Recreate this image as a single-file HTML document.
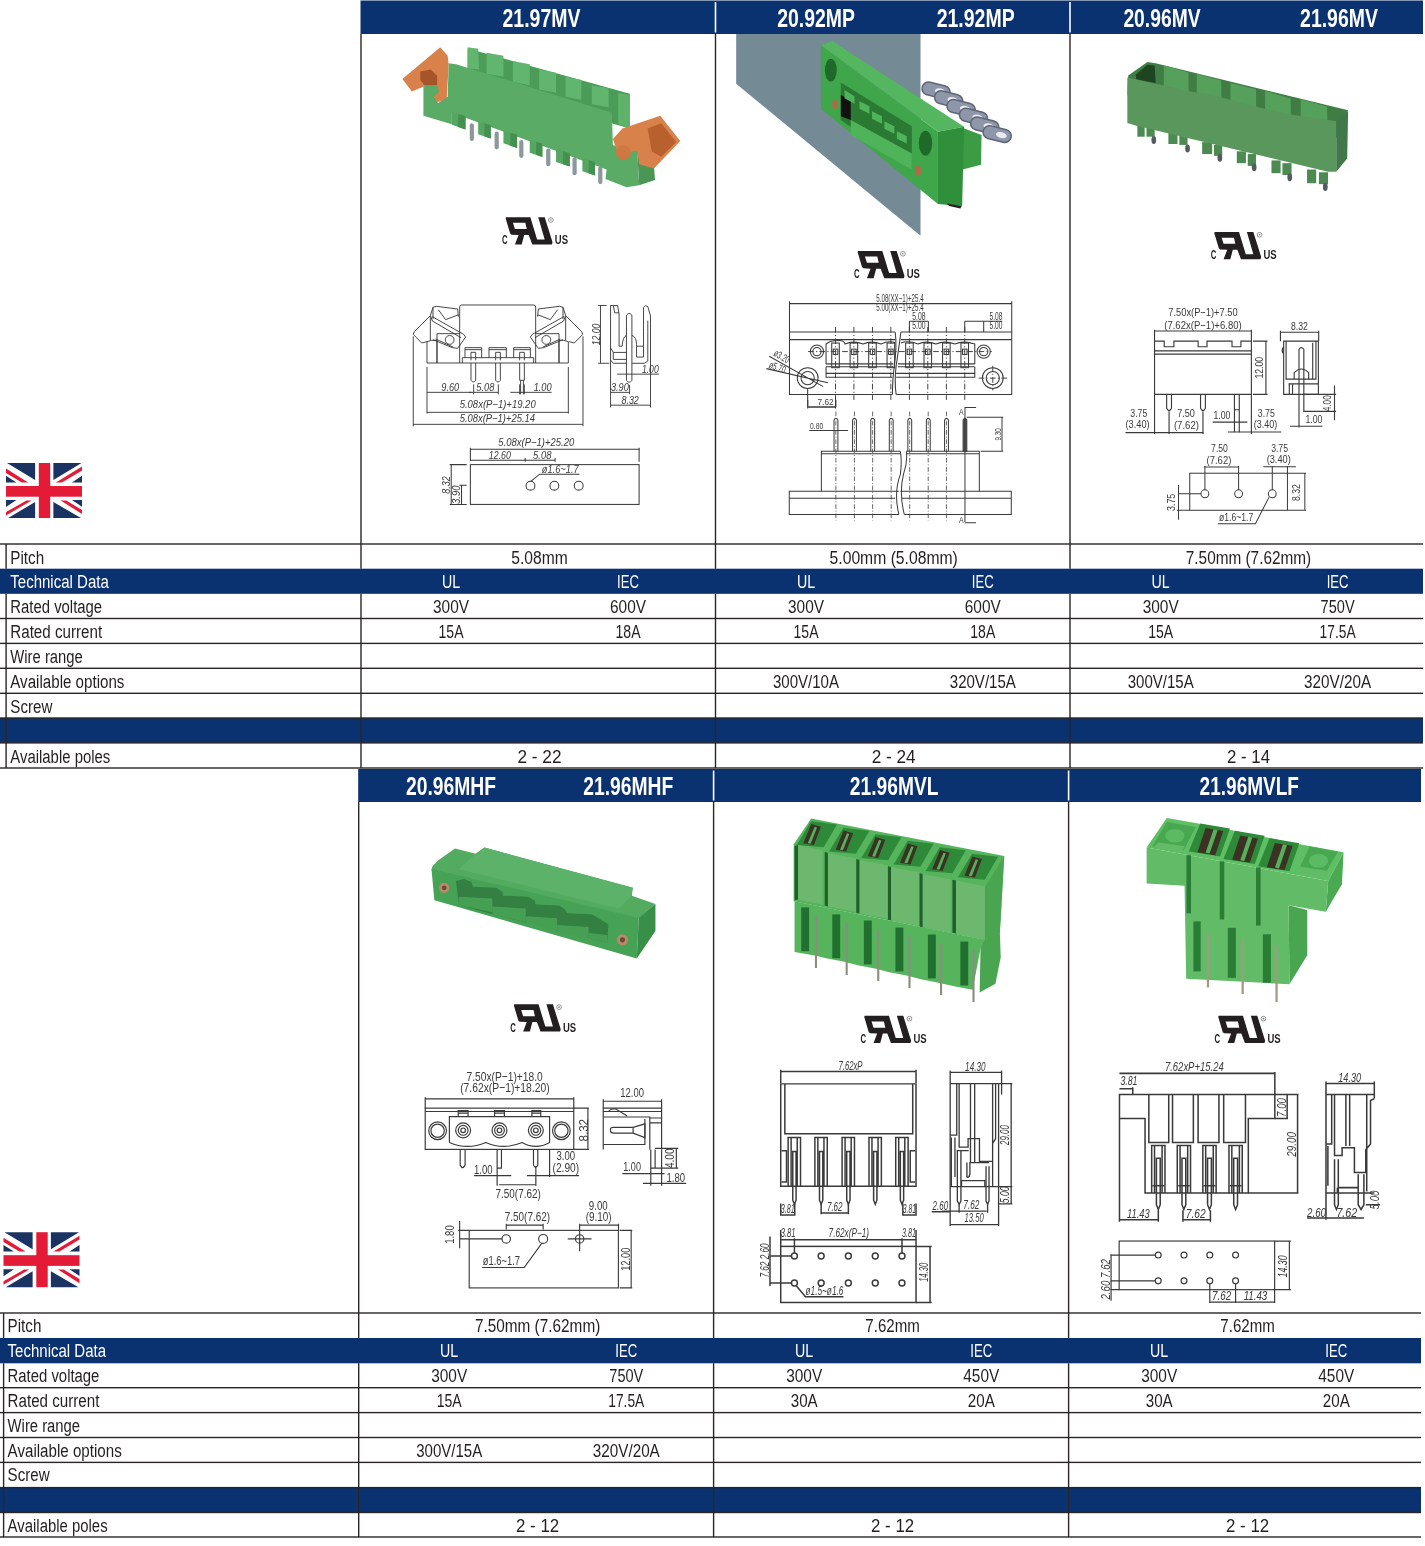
<!DOCTYPE html>
<html><head><meta charset="utf-8"><style>
html,body{margin:0;padding:0;background:#fff;width:1425px;height:1546px;overflow:hidden}
svg{position:absolute;left:0;top:0;display:block;will-change:transform}
text{font-family:"Liberation Sans",sans-serif}
</style></head><body>
<svg width="1425" height="1546" viewBox="0 0 1425 1546">
<defs>
<g id="ul">
<path d="M195,40 L630,40 L750,435 L885,435 L770,40 L885,40 L1025,485 L1012,525 L665,525 L600,355 L520,355 L475,525 L355,525 L420,355 L295,350 L270,330 L190,62 Z M320,140 L540,140 L565,250 L355,250 Z" fill="#231f20" fill-rule="evenodd"/>
<text x="125" y="525" font-size="232" font-weight="bold" fill="#231f20" textLength="100" lengthAdjust="spacingAndGlyphs">C</text>
<text x="1065" y="525" font-size="232" font-weight="bold" fill="#231f20" textLength="235" lengthAdjust="spacingAndGlyphs">US</text>
<circle cx="995" cy="90" r="42" fill="none" stroke="#777" stroke-width="14"/>
<circle cx="995" cy="90" r="14" fill="#777"/>
</g>
</defs>
<use href="#ul" transform="translate(495,215) scale(0.056148)"/>
<use href="#ul" transform="translate(846.97,248.7) scale(0.056148)"/>
<use href="#ul" transform="translate(1203.65,229.77) scale(0.056148)"/>
<g transform="translate(395,40) scale(0.210526)">
<!-- back fins body -->
<polygon points="345,40 1115,255 1115,420 345,200" fill="#4a9c56"/>
<polygon points="345,35 395,42 400,140 345,135" fill="#62b56e"/>
<polygon points="435,60 515,75 515,175 435,160" fill="#62b56e"/>
<polygon points="560,100 640,115 640,215 560,200" fill="#62b56e"/>
<polygon points="685,140 765,155 765,250 685,235" fill="#62b56e"/>
<polygon points="810,175 885,190 885,285 810,270" fill="#62b56e"/>
<polygon points="935,215 1015,230 1015,320 935,305" fill="#62b56e"/>
<polygon points="1060,250 1115,262 1115,420 1060,400" fill="#5fb26a"/>
<!-- left orange flange -->
<polygon points="35,185 215,35 250,75 255,115 245,290 190,295 180,245 140,220 80,245" fill="#d9814b"/>
<polygon points="120,150 170,140 200,170 200,215 140,215 120,190" fill="#a8542a"/>
<!-- pins -->
<g fill="#8d979c">
<rect x="355" y="395" width="20" height="85" rx="10"/>
<rect x="473" y="435" width="20" height="85" rx="10"/>
<rect x="590" y="475" width="20" height="85" rx="10"/>
<rect x="718" y="515" width="20" height="85" rx="10"/>
<rect x="843" y="558" width="20" height="85" rx="10"/>
<rect x="965" y="600" width="20" height="85" rx="10"/>
</g>
<!-- main front face -->
<polygon points="255,110 290,115 1030,345 1035,500 1150,520 1160,690 1100,700 1000,660 1005,615 270,345 270,400 135,360 135,220 200,215 210,245 185,270 205,300 250,270" fill="#59ab66"/>
<polygon points="1150,520 1230,600 1235,665 1160,690" fill="#4a9655"/>
<!-- teeth -->
<g fill="#55a662">
<polygon points="270,340 335,362 335,425 270,403"/>
<polygon points="395,385 455,405 455,468 395,448"/>
<polygon points="515,428 580,450 580,513 515,491"/>
<polygon points="640,472 700,493 700,556 640,535"/>
<polygon points="765,516 830,538 830,601 765,579"/>
<polygon points="890,560 950,581 950,644 890,623"/>
</g>
<g fill="#44914f">
<polygon points="300,352 335,362 335,425 300,413"/>
<polygon points="425,396 455,405 455,468 425,458"/>
<polygon points="548,440 580,450 580,513 548,502"/>
<polygon points="670,483 700,493 700,556 670,545"/>
<polygon points="798,527 830,538 830,601 798,590"/>
<polygon points="920,570 950,581 950,644 920,633"/>
</g>

<!-- right orange flange -->
<polygon points="1035,470 1080,420 1260,360 1355,480 1230,610 1160,590 1150,525 1060,545" fill="#d9814b"/>
<polygon points="1200,420 1265,395 1335,485 1265,555 1220,530" fill="#b8602e"/>
<circle cx="1085" cy="535" r="35" fill="#d07844"/>
</g>
<g transform="translate(405,295) scale(0.133333)" fill="none" stroke="#3a3a3a" stroke-width="7" stroke-linejoin="round">
<path d="M410,510 V90 Q410,75 425,75 H965 Q980,75 980,90 V510"/>
<path d="M165,510 H1225"/>
<path d="M165,510 V350 L200,340 H240 V510 M240,290 V510 M240,290 H410"/>
<path d="M1225,510 V350 L1190,340 H1155 V510 M1155,290 V510 M1155,290 H980"/>
<!-- pin housings -->
<path d="M430,510 V470 H965 V510 M450,470 V395 H575 V470 M630,470 V395 H760 V470 M815,470 V395 H940 V470"/>
<path d="M450,410 H575 M630,410 H760 M815,410 H940"/>
<path d="M495,490 V430 H530 V490 M680,490 V430 H715 V490 M860,490 V430 H895 V490"/>
<path d="M495,510 V640 Q512,665 530,640 V510 M680,510 V640 Q697,665 715,640 V510 M860,510 V640 H895 V510 M867,640 V745 M888,640 V745"/>
<!-- left latch -->
<g id="latchL">
<path d="M165,350 L125,360 L62,295 L70,275 L190,155 L210,92 L235,85 L395,105 L400,160 L395,150"/>
<path d="M250,110 L305,185 L395,150"/>
<path d="M195,165 L205,195 L420,320 M200,160 L440,295 L455,315 L395,400 L355,395 L210,335 M230,330 L360,390"/>
<circle cx="335" cy="337" r="33"/>
<path d="M190,155 V340 M210,92 V180"/>
</g>
<use href="#latchL" transform="translate(1395,0) scale(-1,1)"/>
<!-- dimension lines -->
<path d="M165,540 V890 M1225,540 V890 M62,310 V985 M1335,310 V985 M515,670 V745 M700,670 V745 M860,670 V745 M895,670 V745"/>
<path d="M165,730 H500 M480,730 H700 M790,730 H1100 M165,880 H1225 M60,970 H1335"/>
</g>
<g transform="translate(405,295) scale(0.133333)" fill="#3a3a3a" font-size="78" font-style="italic">
<text x="272" y="720" textLength="135" lengthAdjust="spacingAndGlyphs">9.60</text>
<text x="535" y="720" textLength="135" lengthAdjust="spacingAndGlyphs">5.08</text>
<text x="965" y="720" textLength="135" lengthAdjust="spacingAndGlyphs">1.00</text>
<text x="410" y="845" textLength="570" lengthAdjust="spacingAndGlyphs">5.08x(P−1)+19.20</text>
<text x="410" y="955" textLength="565" lengthAdjust="spacingAndGlyphs">5.08x(P−1)+25.14</text>
</g>
<g transform="translate(590,295) scale(0.07758)" fill="none" stroke="#3a3a3a" stroke-width="12" stroke-linejoin="round">
<path d="M265,1450 V135 H355 L375,240 V660 H415 Q420,540 470,520"/>
<path d="M300,140 L320,230 H375"/>
<path d="M470,1100 V260 Q505,215 540,260 V1100 Q505,1150 470,1100 Z"/>
<path d="M540,520 Q600,540 600,640 V660 H690 V160 Q715,120 745,150 L780,270 V1450"/>
<path d="M745,330 V470 M600,660 V800 H690 V660"/>
<path d="M265,680 L300,740 H470 M300,740 V830 H470 M265,840 L300,880 H470 M540,880 H700 L745,850 V470"/>
<path d="M135,135 V880 M105,135 H215 M105,880 H250"/>
<path d="M350,1020 H890 M260,1255 H510 M260,1420 H780 M510,1160 V1280"/>
</g>
<g transform="translate(590,295) scale(0.07758)" fill="#3a3a3a" font-size="140" font-style="italic">
<text x="670" y="1000" textLength="215" lengthAdjust="spacingAndGlyphs">1.00</text>
<text x="270" y="1238" textLength="230" lengthAdjust="spacingAndGlyphs">3.90</text>
<text x="405" y="1400" textLength="225" lengthAdjust="spacingAndGlyphs">8.32</text>
<text transform="translate(128,648) rotate(-90)" x="0" y="0" textLength="280" lengthAdjust="spacingAndGlyphs">12.00</text>
</g>
<g transform="translate(435,430) scale(0.14737)" fill="none" stroke="#3a3a3a" stroke-width="7">
<rect x="240" y="235" width="1145" height="270"/>
<path d="M240,130 H1390 M240,120 V210 M1385,120 V215 M240,205 H815 M612,190 V215 M815,190 V215"/>
<path d="M110,235 V505 M100,235 H215 M100,505 H215 M180,375 V505 M165,375 H215"/>
<circle cx="648" cy="378" r="30"/><circle cx="810" cy="378" r="30"/><circle cx="975" cy="378" r="30"/>
<path d="M648,350 L710,300 H980"/>
</g>
<g transform="translate(435,430) scale(0.14737)" fill="#3a3a3a" font-size="74" font-style="italic">
<text x="430" y="110" textLength="515" lengthAdjust="spacingAndGlyphs">5.08x(P−1)+25.20</text>
<text x="365" y="195" textLength="150" lengthAdjust="spacingAndGlyphs">12.60</text>
<text x="665" y="195" textLength="125" lengthAdjust="spacingAndGlyphs">5.08</text>
<text x="725" y="290" textLength="250" lengthAdjust="spacingAndGlyphs">ø1.6~1.7</text>
<text transform="translate(100,432) rotate(-90)" textLength="118" lengthAdjust="spacingAndGlyphs">8.32</text>
<text transform="translate(172,502) rotate(-90)" textLength="125" lengthAdjust="spacingAndGlyphs">3.90</text>
</g>
<g transform="translate(715,34) scale(0.249120)">
<polygon points="85,0 825,0 825,810 85,200" fill="#748a95"/>
<!-- pins -->
<g transform="rotate(14 885 227)"><rect x="830" y="200" width="115" height="52" rx="26" fill="#8e96aa" stroke="#5d6676" stroke-width="6"/><ellipse cx="905" cy="226" rx="22" ry="12" fill="#e8eaf0"/></g>
<g transform="rotate(14 935 262)"><rect x="880" y="235" width="115" height="52" rx="26" fill="#8e96aa" stroke="#5d6676" stroke-width="6"/><ellipse cx="955" cy="261" rx="22" ry="12" fill="#e8eaf0"/></g>
<g transform="rotate(14 985 297)"><rect x="930" y="270" width="115" height="52" rx="26" fill="#8e96aa" stroke="#5d6676" stroke-width="6"/><ellipse cx="1005" cy="296" rx="22" ry="12" fill="#e8eaf0"/></g>
<g transform="rotate(14 1035 332)"><rect x="980" y="305" width="115" height="52" rx="26" fill="#8e96aa" stroke="#5d6676" stroke-width="6"/><ellipse cx="1055" cy="331" rx="22" ry="12" fill="#e8eaf0"/></g>
<g transform="rotate(14 1080 367)"><rect x="1025" y="340" width="115" height="52" rx="26" fill="#8e96aa" stroke="#5d6676" stroke-width="6"/><ellipse cx="1100" cy="366" rx="22" ry="12" fill="#e8eaf0"/></g>
<g transform="rotate(14 1130 402)"><rect x="1075" y="375" width="115" height="52" rx="26" fill="#8e96aa" stroke="#5d6676" stroke-width="6"/><ellipse cx="1150" cy="401" rx="22" ry="12" fill="#e8eaf0"/></g>
<polygon points="990,375 1070,405 1068,525 990,545" fill="#3b9c45"/>
<polygon points="425,45 470,28 1000,372 895,392" fill="#54b65e"/>
<polygon points="425,45 895,392 895,682 425,300" fill="#40a64b"/>
<polygon points="895,392 1000,372 992,690 895,682" fill="#2f8f3b"/>
<polygon points="930,680 990,690 985,700 940,690" fill="#222"/>
<polygon points="505,195 790,370 790,545 505,345" fill="#2a7a33"/>
<polygon points="505,245 545,265 545,345 505,330" fill="#111"/>
<g fill="#4fb35a">
<polygon points="545,345 790,480 790,545 545,405"/>
<polygon points="520,225 560,250 560,280 520,258"/>
<polygon points="580,270 620,290 620,320 580,300"/>
<polygon points="630,310 670,330 670,360 630,340"/>
<polygon points="680,350 720,370 720,400 680,380"/>
<polygon points="730,390 770,410 770,440 730,420"/>
</g>
<ellipse cx="465" cy="145" rx="24" ry="46" fill="#1f6a28"/>
<ellipse cx="845" cy="438" rx="27" ry="50" fill="#1f6a28"/>
<ellipse cx="482" cy="283" rx="11" ry="18" fill="#b4684a"/>
<ellipse cx="815" cy="548" rx="12" ry="20" fill="#b4684a"/>
</g>
<g transform="translate(755,290) scale(0.18947)" fill="none" stroke="#3a3a3a" stroke-width="5.5">
<path d="M740,222 H182 V552 H725 M770,222 H1355 V552 H745"/>
<path d="M182,262 H740 M770,262 H1355"/>
<path d="M740,222 Q750,300 735,400 Q725,480 725,552 M770,222 Q760,300 745,400 Q735,480 745,552"/>
<path d="M375,390 V285 Q400,265 425,268 Q470,260 475,285 Q520,265 570,285 Q615,265 665,285 Q710,265 740,280 M770,280 Q810,265 860,285 Q905,265 955,285 Q1000,265 1055,285 Q1100,265 1160,285 V390"/>
<path d="M375,390 H730 M755,390 H1160 M375,405 H730 M755,405 H1160 M375,405 V460 H725 M745,460 H1160 V405 M375,440 H728 M745,440 H1160"/>
<g id="c2pin"><rect x="405" y="280" width="40" height="130"/><rect x="413" y="312" width="24" height="28"/></g>
<use href="#c2pin" transform="translate(97,0)"/><use href="#c2pin" transform="translate(195,0)"/><use href="#c2pin" transform="translate(292,0)"/>
<use href="#c2pin" transform="translate(390,0)"/><use href="#c2pin" transform="translate(487,0)"/><use href="#c2pin" transform="translate(585,0)"/><use href="#c2pin" transform="translate(682,0)"/>
<circle cx="327" cy="325" r="35"/><circle cx="327" cy="325" r="22"/>
<circle cx="1207" cy="325" r="35"/><circle cx="1207" cy="325" r="22"/>
<circle cx="278" cy="465" r="55"/><circle cx="278" cy="465" r="35"/>
<circle cx="1255" cy="465" r="55"/><circle cx="1255" cy="465" r="35"/>
<path d="M425,195 V580 M522,195 V580 M620,195 V580 M717,195 V580 M815,195 V580 M912,195 V580 M1010,195 V580 M1107,195 V580 M280,325 H1250 M1180,465 H1330 M1255,400 V530" stroke-dasharray="30,12,6,12" stroke-width="5"/>
<path d="M182,72 H1355 M182,60 V222 M1355,60 V222"/>
<path d="M815,165 H915 M815,165 V222 M915,165 V222 M1107,165 H1305 M1107,165 V222 M1207,165 V222"/>
<path d="M278,520 V625 M425,560 V625 M278,618 H425"/>
<path d="M75,350 L360,510 M60,415 L385,490"/>
</g>
<g transform="translate(755,290) scale(0.18947)" fill="#3a3a3a" font-size="55">
<text x="640" y="62" textLength="250" lengthAdjust="spacingAndGlyphs">5.08(XX−1)+25.4</text>
<text x="640" y="110" textLength="250" lengthAdjust="spacingAndGlyphs">5.00(XX−1)+25.4</text>
<text x="830" y="160" textLength="70" lengthAdjust="spacingAndGlyphs">5.08</text>
<text x="830" y="207" textLength="70" lengthAdjust="spacingAndGlyphs">5.00</text>
<text x="1238" y="160" textLength="68" lengthAdjust="spacingAndGlyphs">5.08</text>
<text x="1238" y="207" textLength="68" lengthAdjust="spacingAndGlyphs">5.00</text>
<text x="330" y="605" font-size="50" textLength="85" lengthAdjust="spacingAndGlyphs">7.62</text>
<text transform="translate(95,345) rotate(30)" textLength="85" lengthAdjust="spacingAndGlyphs">ø3.20</text>
<text transform="translate(70,410) rotate(20)" textLength="90" lengthAdjust="spacingAndGlyphs">ø5.70</text>
</g>
<g transform="translate(780,400) scale(0.15439)" fill="none" stroke="#3a3a3a" stroke-width="6.5">
<path d="M770,591 H60 V741 H770 M805,741 H1498 V591 H780 M60,637 H745 M790,637 H1498"/>
<path d="M268,591 V332 H780 M818,332 H1291 V591 M268,348 H780 M818,348 H1291"/>
<path d="M780,332 Q790,400 780,480 Q735,600 770,741 M818,332 Q828,400 800,480 Q770,600 805,741"/>
<g id="c2pn"><path d="M350,332 V130 Q362,105 375,130 V332"/></g>
<use href="#c2pn" transform="translate(120,0)"/><use href="#c2pn" transform="translate(238,0)"/><use href="#c2pn" transform="translate(358,0)"/>
<use href="#c2pn" transform="translate(478,0)"/><use href="#c2pn" transform="translate(598,0)"/><use href="#c2pn" transform="translate(716,0)"/>
<path d="M1186,332 V130 Q1198,105 1210,130 V332 Z" fill="#555"/>
<path d="M362,75 V780 M482,75 V780 M600,75 V780 M720,75 V780 M840,75 V780 M960,75 V780 M1078,75 V780" stroke-dasharray="30,12,6,12" stroke-width="5"/>
<path d="M1198,45 V790 M1198,48 H1270 M1198,795 H1270 M1209,112 H1446 M1300,332 H1446 M1438,112 V332"/>
<path d="M190,197 H440 M180,0 V45 M362,0 V45 M180,45 H362"/>
</g>
<g transform="translate(780,400) scale(0.15439)" fill="#3a3a3a" font-size="62">
<text x="195" y="185" textLength="85" lengthAdjust="spacingAndGlyphs">0.80</text>
<text x="1160" y="95" textLength="30" lengthAdjust="spacingAndGlyphs">A</text>
<text x="1160" y="795" textLength="30" lengthAdjust="spacingAndGlyphs">A</text>
<text transform="translate(1430,262) rotate(-90)" textLength="80" lengthAdjust="spacingAndGlyphs">9.30</text>
</g>
<g transform="translate(1110,40) scale(0.18246)">
<polygon points="100,195 205,120 250,128 1305,385 1240,540 95,300" fill="#3f7d45"/>
<polygon points="140,190 205,135 245,140 250,235 145,215" fill="#1d4520"/>
<g fill="#55a05a">
<polygon points="295,145 300,140 430,178 432,400 295,360"/>
<polygon points="475,185 610,222 612,440 475,400"/>
<polygon points="660,235 800,270 802,480 660,440"/>
<polygon points="850,280 990,320 992,520 850,480"/>
<polygon points="1045,325 1190,365 1192,560 1045,520"/>
</g>
<g fill="#4d8a52">
<rect x="150" y="470" width="40" height="60"/><rect x="200" y="480" width="45" height="50"/>
<rect x="320" y="510" width="50" height="60"/><rect x="380" y="525" width="45" height="50"/>
<rect x="505" y="560" width="55" height="65"/><rect x="570" y="575" width="45" height="60"/>
<rect x="695" y="610" width="50" height="65"/><rect x="755" y="625" width="45" height="65"/>
<rect x="885" y="660" width="50" height="70"/><rect x="945" y="675" width="50" height="65"/>
<rect x="1080" y="710" width="50" height="75"/><rect x="1145" y="725" width="50" height="65"/>
</g>
<polygon points="95,205 245,240 330,255 420,280 560,300 720,345 880,385 1000,410 1240,445 1240,722 1195,722 145,470 95,455" fill="#5a975c"/>
<polygon points="1240,445 1305,390 1300,650 1240,722" fill="#41784a"/>
<g fill="#555c60">
<ellipse cx="240" cy="548" rx="13" ry="22"/><ellipse cx="425" cy="595" rx="13" ry="22"/>
<ellipse cx="602" cy="645" rx="13" ry="22"/><ellipse cx="790" cy="697" rx="13" ry="22"/>
<ellipse cx="985" cy="752" rx="13" ry="22"/><ellipse cx="1180" cy="805" rx="13" ry="22"/>
</g>
</g>
<g transform="translate(1115,300) scale(0.16140)" fill="none" stroke="#3a3a3a" stroke-width="7">
<path d="M245,585 V255 H305 V290 H365 V255 H515 V290 H570 V255 H725 V290 H780 V255 H845 V585 Z"/>
<path d="M245,315 H845 M245,335 H845"/>
<path d="M320,585 V670 Q335,700 350,670 V585 M530,585 V670 Q545,700 560,670 V585 M740,585 V820 M770,585 V820 M740,680 H770"/>
<path d="M855,255 H945 M855,585 H945 M935,255 V585"/>
<path d="M245,192 H845 M245,185 V255 M845,185 V255"/>
<path d="M65,822 H550 M245,585 V830 M335,690 V830 M545,690 V830 M845,585 V830 M605,757 H820 M700,818 H1030"/>
<path d="M1045,585 V255 H1260 V585 Z M1060,255 V490 H1245 V255 M1075,520 H1260 M1080,520 V585 M1100,520 V585 M1225,265 V490"/>
<path d="M1045,290 Q1030,310 1040,330 M1110,490 V450 Q1155,405 1200,450 V490"/>
<path d="M1140,790 V305 Q1155,285 1170,305 V690 H1370 M1170,585 H1370 M1360,530 V745 M1025,200 H1262 M1025,190 V255 M1262,190 V255 M1085,782 H1285 M1140,690 V790"/>
</g>
<g transform="translate(1115,300) scale(0.16140)" fill="#3a3a3a" font-size="70">
<text x="330" y="100" textLength="430" lengthAdjust="spacingAndGlyphs">7.50x(P−1)+7.50</text>
<text x="305" y="180" textLength="480" lengthAdjust="spacingAndGlyphs">(7.62x(P−1)+6.80)</text>
<text x="95" y="725" textLength="105" lengthAdjust="spacingAndGlyphs">3.75</text>
<text x="65" y="795" textLength="150" lengthAdjust="spacingAndGlyphs">(3.40)</text>
<text x="385" y="725" textLength="110" lengthAdjust="spacingAndGlyphs">7.50</text>
<text x="365" y="800" textLength="155" lengthAdjust="spacingAndGlyphs">(7.62)</text>
<text x="610" y="740" textLength="105" lengthAdjust="spacingAndGlyphs">1.00</text>
<text x="885" y="725" textLength="105" lengthAdjust="spacingAndGlyphs">3.75</text>
<text x="860" y="795" textLength="145" lengthAdjust="spacingAndGlyphs">(3.40)</text>
<text x="1090" y="185" textLength="105" lengthAdjust="spacingAndGlyphs">8.32</text>
<text x="1180" y="765" textLength="105" lengthAdjust="spacingAndGlyphs">1.00</text>
<text transform="translate(915,487) rotate(-90)" textLength="135" lengthAdjust="spacingAndGlyphs">12.00</text>
<text transform="translate(1340,690) rotate(-90)" textLength="100" lengthAdjust="spacingAndGlyphs">4.00</text>
</g>
<g transform="translate(1160,430) scale(0.11228)" fill="none" stroke="#3a3a3a" stroke-width="9">
<rect x="265" y="385" width="870" height="330"/>
<circle cx="400" cy="568" r="35"/><circle cx="700" cy="568" r="35"/><circle cx="1000" cy="568" r="35"/>
<path d="M400,320 V535 M700,320 V535 M1000,320 V535 M1135,320 V385 M390,330 H705 M920,328 H1210"/>
<path d="M1290,385 V715 M1135,385 H1300 M1135,715 H1300 M165,490 V800 M165,568 H365 M150,715 H265 M970,600 L850,835 H515"/>
</g>
<g transform="translate(1160,430) scale(0.11228)" fill="#3a3a3a" font-size="92">
<text x="455" y="200" textLength="150" lengthAdjust="spacingAndGlyphs">7.50</text>
<text x="415" y="300" textLength="220" lengthAdjust="spacingAndGlyphs">(7.62)</text>
<text x="990" y="195" textLength="150" lengthAdjust="spacingAndGlyphs">3.75</text>
<text x="950" y="295" textLength="215" lengthAdjust="spacingAndGlyphs">(3.40)</text>
<text x="525" y="810" textLength="305" lengthAdjust="spacingAndGlyphs">ø1.6~1.7</text>
<text transform="translate(1250,632) rotate(-90)" textLength="150" lengthAdjust="spacingAndGlyphs">8.32</text>
<text transform="translate(133,722) rotate(-90)" textLength="155" lengthAdjust="spacingAndGlyphs">3.75</text>
</g>
<g transform="translate(400,820) scale(0.19649)">
<polygon points="165,235 195,205 280,145 385,172 430,140 1185,345 1180,385 1300,428 1215,500 160,255" fill="#52ab5f"/>
<polygon points="430,140 1185,345 1175,390 1110,450 300,250 385,172" fill="#5cb268"/>
<polygon points="160,250 1215,498 1205,705 175,408" fill="#46a355"/>
<polygon points="1215,498 1300,428 1300,565 1205,705" fill="#378f48"/>
<polygon points="285,310 325,300 365,315 370,340 490,345 520,365 525,385 650,390 685,410 690,430 810,435 840,455 850,475 975,480 1010,500 1060,530 1055,625 950,600 300,435" fill="#347f42"/>
<g fill="#46a054">
<polygon points="300,390 470,400 470,470 300,435"/>
<polygon points="470,440 640,450 640,520 470,480"/>
<polygon points="640,490 800,500 800,565 640,525"/>
<polygon points="800,535 960,545 960,605 800,570"/>
<polygon points="960,575 1055,585 1055,625 960,605"/>
</g>
<circle cx="225" cy="345" r="26" fill="#b88a6a"/><circle cx="225" cy="345" r="12" fill="#6b4a38"/>
<circle cx="1132" cy="610" r="28" fill="#b88a6a"/><circle cx="1132" cy="610" r="13" fill="#6b4a38"/>
</g>
<g transform="translate(415,1060) scale(0.19649)" fill="none" stroke="#3a3a3a" stroke-width="6">
<rect x="52" y="245" width="756" height="210"/>
<path d="M52,262 H808"/>
<path d="M175,420 V288 H685 V420 Q615,460 545,420 Q452,460 360,420 Q267,460 175,420"/>
<path d="M220,288 V258 H270 V288 M405,288 V258 H455 V288 M595,288 V258 H640 V288 M220,270 H270 M405,270 H455 M595,270 H640"/>
<circle cx="115" cy="360" r="45"/><circle cx="115" cy="360" r="34"/>
<circle cx="745" cy="360" r="45"/><circle cx="745" cy="360" r="34"/>
<circle cx="245" cy="358" r="38"/><circle cx="245" cy="358" r="25"/><circle cx="245" cy="358" r="12"/>
<circle cx="430" cy="358" r="38"/><circle cx="430" cy="358" r="25"/><circle cx="430" cy="358" r="12"/>
<circle cx="615" cy="358" r="38"/><circle cx="615" cy="358" r="25"/><circle cx="615" cy="358" r="12"/>
<path d="M230,455 V535 Q242,560 255,535 V455 M418,455 V640 M440,455 V550 H418 M603,455 V535 Q614,560 625,535 V455 M615,540 V640"/>
<path d="M52,198 H808 M52,190 V245 M808,190 V245 M808,245 H885 M808,455 H885 M880,245 V455"/>
<path d="M300,588 H490 M570,588 H835 M428,635 H615 M685,455 V595"/>
<path d="M958,455 V245 H1255 V455 M958,262 H1255 M958,290 H1195 V455 M1170,300 V430 H958 M1195,320 H1255 M1195,295 H1255"/>
<path d="M985,262 Q990,250 1020,248 L1080,285 M995,350 Q995,345 1010,343 H1110 L1170,325 V395 L1110,372 H1010 Q995,372 995,360 Z M1110,343 V372"/>
<path d="M1200,455 V640 M1222,455 V550 H1200 M1255,455 V640 M958,210 H1255 M958,200 V245 M1255,200 V245 M1330,450 V550 M1222,450 H1340 M1222,550 H1340 M1055,578 H1270 M1160,628 H1380"/>
</g>
<g transform="translate(415,1060) scale(0.19649)" fill="#3a3a3a" font-size="66">
<text x="262" y="105" textLength="388" lengthAdjust="spacingAndGlyphs">7.50x(P−1)+18.0</text>
<text x="230" y="165" textLength="455" lengthAdjust="spacingAndGlyphs">(7.62x(P−1)+18.20)</text>
<text x="720" y="510" textLength="95" lengthAdjust="spacingAndGlyphs">3.00</text>
<text x="700" y="570" textLength="135" lengthAdjust="spacingAndGlyphs">(2.90)</text>
<text x="300" y="580" textLength="95" lengthAdjust="spacingAndGlyphs">1.00</text>
<text x="410" y="700" textLength="230" lengthAdjust="spacingAndGlyphs">7.50(7.62)</text>
<text transform="translate(880,415) rotate(-90)" textLength="115" lengthAdjust="spacingAndGlyphs">8.32</text>
<text x="1045" y="190" textLength="120" lengthAdjust="spacingAndGlyphs">12.00</text>
<text x="1060" y="565" textLength="90" lengthAdjust="spacingAndGlyphs">1.00</text>
<text x="1280" y="620" textLength="95" lengthAdjust="spacingAndGlyphs">1.80</text>
<text transform="translate(1318,550) rotate(-90)" textLength="100" lengthAdjust="spacingAndGlyphs">4.00</text>
</g>
<g transform="translate(440,1195) scale(0.14035)" fill="none" stroke="#3a3a3a" stroke-width="8">
<rect x="208" y="252" width="1063" height="410"/>
<circle cx="472" cy="313" r="30"/><circle cx="735" cy="313" r="32"/><circle cx="995" cy="313" r="30"/>
<path d="M910,313 H1080 M995,225 V400 M472,205 V245 M735,205 V245 M472,215 H735 M995,205 V245 M995,215 H1272 M1272,205 V252"/>
<path d="M140,185 V380 M130,252 H208 M140,313 H442 M1280,252 H1370 M1280,662 H1370 M1362,252 V662 M300,517 H600 L725,345"/>
</g>
<g transform="translate(440,1195) scale(0.14035)" fill="#3a3a3a" font-size="95">
<text x="462" y="185" textLength="322" lengthAdjust="spacingAndGlyphs">7.50(7.62)</text>
<text x="1060" y="110" textLength="135" lengthAdjust="spacingAndGlyphs">9.00</text>
<text x="1038" y="188" textLength="185" lengthAdjust="spacingAndGlyphs">(9.10)</text>
<text x="305" y="497" textLength="265" lengthAdjust="spacingAndGlyphs">ø1.6~1.7</text>
<text transform="translate(103,348) rotate(-90)" textLength="132" lengthAdjust="spacingAndGlyphs">1.80</text>
<text transform="translate(1352,540) rotate(-90)" textLength="165" lengthAdjust="spacingAndGlyphs">12.00</text>
</g>
<use href="#ul" transform="translate(503.2,1002.1) scale(0.056148)"/>
<g transform="translate(770,810) scale(0.17544)">
<polygon points="1225,700 1310,690 1315,840 1285,990 1195,1040 1200,790" fill="#4aa551"/>
<polygon points="135,195 235,48 1335,262 1310,700 1225,740 135,520" fill="#55b45c"/>
<polygon points="1225,440 1335,262 1310,700 1225,740" fill="#4aa551"/>
<g><polygon points="153,199 306,212 382,82 234,64" fill="#2e8a38"/><polygon points="190,190 250,200 290,95 235,80" fill="#3a3324"/><polygon points="215,190 232,193 268,100 255,96" fill="#58b05e"/><polygon points="337,236 490,249 566,119 418,101" fill="#2e8a38"/><polygon points="374,227 434,237 474,132 419,117" fill="#3a3324"/><polygon points="399,227 416,230 452,137 439,133" fill="#58b05e"/><polygon points="520,273 673,286 749,156 601,138" fill="#2e8a38"/><polygon points="557,264 617,274 657,169 602,154" fill="#3a3324"/><polygon points="582,264 599,267 635,174 622,170" fill="#58b05e"/><polygon points="704,310 857,323 933,193 785,175" fill="#2e8a38"/><polygon points="741,301 801,311 841,206 786,191" fill="#3a3324"/><polygon points="766,301 783,304 819,211 806,207" fill="#58b05e"/><polygon points="887,347 1040,360 1116,230 968,212" fill="#2e8a38"/><polygon points="924,338 984,348 1024,243 969,228" fill="#3a3324"/><polygon points="949,338 966,341 1002,248 989,244" fill="#58b05e"/><polygon points="1071,384 1224,397 1300,267 1152,249" fill="#2e8a38"/><polygon points="1108,375 1168,385 1208,280 1153,265" fill="#3a3324"/><polygon points="1133,375 1150,378 1186,285 1173,281" fill="#58b05e"/></g>
<g fill="#1f5f2a"><polygon points="140,205 160,200 160,510 140,515"/><polygon points="312,240 332,245 332,550 312,545"/><polygon points="492,280 512,285 512,590 492,585"/><polygon points="672,320 692,325 692,630 672,625"/><polygon points="852,360 872,365 872,670 852,665"/><polygon points="1040,398 1060,402 1060,705 1040,700"/></g>
<g fill="#6cb86e">
<polygon points="160,200 300,230 300,540 160,510"/>
<polygon points="330,245 490,275 490,580 330,550"/>
<polygon points="510,285 670,315 670,620 510,590"/>
<polygon points="690,325 850,355 850,660 690,630"/>
<polygon points="870,365 1030,395 1030,700 870,670"/>
<polygon points="1060,400 1225,435 1225,740 1060,705"/>
</g>
<polygon points="140,520 1225,740 1200,790 1155,1025 1050,1005 960,985 860,965 785,945 680,925 605,905 500,885 425,865 320,845 255,830 140,810" fill="#55b45c"/>
<g fill="#21702f">
<rect x="178" y="555" width="45" height="250"/><rect x="355" y="595" width="45" height="250"/>
<rect x="535" y="630" width="45" height="250"/><rect x="715" y="670" width="45" height="250"/>
<rect x="900" y="710" width="45" height="250"/><rect x="1085" y="750" width="45" height="250"/>
</g>
<g stroke="#8c8c80" stroke-width="12">
<path d="M262,600 V900 M437,640 V940 M617,680 V975 M795,720 V1015 M975,760 V1055 M1160,800 V1095"/>
</g>
</g>
<g transform="translate(770,1055) scale(0.16499)" fill="none" stroke="#3a3a3a" stroke-width="9">
<path d="M65,795 V175 H885 V795 Z M90,175 V478 H865 V175"/>
<g id="c5leg"><path d="M110,795 V500 H185 V795 M128,500 V795 M165,500 V795 M138,585 V880 L148,905 L158,880 V585 Z"/></g>
<use href="#c5leg" transform="translate(162,0)"/><use href="#c5leg" transform="translate(327,0)"/><use href="#c5leg" transform="translate(490,0)"/><use href="#c5leg" transform="translate(652,0)"/>
<path d="M70,580 H100 V770 H70 M880,580 H850 V770 H880"/>
<path d="M65,100 H885 M65,90 V170 M885,90 V170 M65,970 H150 M65,900 V975 M150,900 V975 M310,958 H475 M310,900 V965 M475,900 V965 M805,970 H885 M805,900 V975 M885,900 V975"/>
<rect x="65" y="1160" width="820" height="340"/>
<g id="c5h"><circle cx="148" cy="1218" r="18"/><circle cx="148" cy="1382" r="18"/></g>
<use href="#c5h" transform="translate(162,0)"/><use href="#c5h" transform="translate(327,0)"/><use href="#c5h" transform="translate(490,0)"/><use href="#c5h" transform="translate(652,0)"/>
<path d="M65,1120 H885 M65,1060 V1160 M885,1060 V1160 M148,1110 V1200 M800,1110 V1200 M0,1218 H128 M0,1382 H128 M0,1100 V1400 M885,1160 H980 M885,1500 H980 M970,1160 V1500 M160,1400 L215,1465 H445"/>
</g>
<g transform="translate(770,1055) scale(0.16499)" fill="#3a3a3a" font-size="72" font-style="italic">
<text x="415" y="90" textLength="145" lengthAdjust="spacingAndGlyphs">7.62xP</text>
<text x="65" y="955" textLength="85" lengthAdjust="spacingAndGlyphs">3.81</text>
<text x="345" y="945" textLength="95" lengthAdjust="spacingAndGlyphs">7.62</text>
<text x="805" y="955" textLength="80" lengthAdjust="spacingAndGlyphs">3.81</text>
<text x="985" y="940" textLength="95" lengthAdjust="spacingAndGlyphs">2.60</text>
<path d="M980,950 H1090" fill="none" stroke="#3a3a3a" stroke-width="9"/>
<text x="65" y="1105" textLength="90" lengthAdjust="spacingAndGlyphs">3.81</text>
<text x="355" y="1105" textLength="245" lengthAdjust="spacingAndGlyphs">7.62x(P−1)</text>
<text x="800" y="1105" textLength="85" lengthAdjust="spacingAndGlyphs">3.81</text>
<text x="215" y="1455" textLength="230" lengthAdjust="spacingAndGlyphs">ø1.5~ø1.6</text>
<text transform="translate(-5,1348) rotate(-90)" textLength="205" lengthAdjust="spacingAndGlyphs">7.62 2.60</text>
<text transform="translate(960,1375) rotate(-90)" textLength="115" lengthAdjust="spacingAndGlyphs">14.30</text>
</g>
<use href="#ul" transform="translate(853.6,1013.6) scale(0.056148)"/>
<g transform="translate(940,1055) scale(0.11958)" fill="none" stroke="#3a3a3a" stroke-width="11">
<path d="M85,1430 V240 H605 M490,240 V1430 M85,1100 H605 M85,145 H515 M85,130 V240 M515,130 V330 M490,1245 H605 M595,240 V1245"/>
<path d="M140,240 V670 H85 M160,240 V770 H235 V700 H330 V890 H440 M95,690 V1100 M125,690 V1020 M440,240 V1100 M465,240 V700 L440,740 M255,240 V900 M290,240 V900 M140,800 H240 M180,1100 V1050 H375 V1100 M225,900 V1020 Q240,1030 250,1000 V900 H410"/>
<path d="M145,800 V1220 L160,1250 L175,1220 V800 M385,930 V1220 L398,1250 L410,1220 V930"/>
<path d="M20,1305 H390 M85,1418 H490 M160,1250 V1320 M398,1250 V1320"/>
</g>
<g transform="translate(940,1055) scale(0.11958)" fill="#3a3a3a" font-size="100" font-style="italic">
<text x="210" y="135" textLength="170" lengthAdjust="spacingAndGlyphs">14.30</text>
<text x="195" y="1290" textLength="135" lengthAdjust="spacingAndGlyphs">7.62</text>
<text x="205" y="1400" textLength="160" lengthAdjust="spacingAndGlyphs">13.50</text>
<text transform="translate(578,752) rotate(-90)" textLength="165" lengthAdjust="spacingAndGlyphs">29.00</text>
<text transform="translate(578,1240) rotate(-90)" textLength="140" lengthAdjust="spacingAndGlyphs">5.00</text>
</g>
<g transform="translate(1120,810) scale(0.16140)">
<polygon points="1045,590 1160,620 1160,900 1050,1080" fill="#4aa551"/>
<polygon points="165,232 290,50 520,90 1130,215 1385,262 1290,440" fill="#5ebf64"/>
<polygon points="1290,440 1385,262 1375,460 1275,630" fill="#4aa951"/>
<polygon points="165,232 1290,440 1275,630 1045,590 1050,1080 410,1045 400,470 165,455" fill="#62bb67"/>
<g><polygon points="426,257 620,288 681,114 497,83" fill="#2e8a38"/><polygon points="480,262 590,280 640,130 530,112" fill="#3a3324"/><polygon points="530,265 555,270 605,125 580,120" fill="#58b05e"/><polygon points="641,303 835,334 896,160 712,129" fill="#2e8a38"/><polygon points="695,308 805,326 855,176 745,158" fill="#3a3324"/><polygon points="745,311 770,316 820,171 795,166" fill="#58b05e"/><polygon points="856,349 1050,380 1111,206 927,175" fill="#2e8a38"/><polygon points="910,354 1020,372 1070,222 960,204" fill="#3a3324"/><polygon points="960,357 985,362 1035,217 1010,212" fill="#58b05e"/></g>
<g fill="#48a84f">
<polygon points="200,225 290,75 470,105 395,250"/>
<polygon points="1100,385 1175,225 1350,258 1265,405"/>
</g>
<g fill="#5cbb62">
<ellipse cx="340" cy="160" rx="60" ry="42"/><polygon points="210,235 235,200 400,225 385,255" fill="#62bb67"/>
<ellipse cx="1230" cy="315" rx="60" ry="42"/><polygon points="1095,385 1115,350 1290,378 1265,408" fill="#62bb67"/>
</g>
<g fill="#2a7d35">
<rect x="412" y="280" width="28" height="360"/><rect x="618" y="318" width="28" height="360"/><rect x="843" y="356" width="28" height="360"/>
<rect x="455" y="690" width="45" height="310"/><rect x="668" y="730" width="50" height="310"/><rect x="885" y="770" width="50" height="300"/>
</g>
<g stroke="#a09a80" stroke-width="14">
<path d="M545,760 V1100 M760,800 V1140 M970,840 V1190"/>
</g>
</g>
<use href="#ul" transform="translate(1207.6,1013.6) scale(0.056148)"/>
<g transform="translate(1110,1055) scale(0.18947)" fill="none" stroke="#3a3a3a" stroke-width="8">
<path d="M50,880 V208 H870 V335 H730 V728 H185 V335 H50"/>
<path d="M205,208 V462 H310 V208 M330,208 V462 H440 V208 M465,208 V462 H575 V208 M600,208 V462 H715 V208"/>
<g id="c6leg"><path d="M220,728 V478 H290 V728 M235,478 V728 M275,478 V728 M245,545 V790 L255,815 L265,790 V545 Z M225,690 H285"/></g>
<use href="#c6leg" transform="translate(135,0)"/><use href="#c6leg" transform="translate(270,0)"/><use href="#c6leg" transform="translate(408,0)"/>
<path d="M50,97 H870 M870,90 V208 M50,178 H120 M120,170 V208 M870,208 H995 M870,335 H940 M730,728 H995 M990,208 V728 M935,208 V335 M50,870 H255 M255,820 V880 M385,870 H530 M385,820 V880 M530,820 V880"/>
<path d="M1140,870 V208 H1395 M1140,150 H1395 M1140,140 V208 M1395,140 V230 M1170,208 V470 H1140 M1185,208 V530 H1225 V490 H1290 V620 H1350 V500 L1375,470 V240 L1395,230 M1245,208 V480 M1265,208 V480 M1355,208 V720 M1150,480 V690 M1185,550 V790 L1195,815 L1205,790 V550 M1310,630 V790 L1325,815 L1340,790 V630 M1200,700 H1310 V728 M1200,700 V728 M1140,728 H1395 M1040,860 H1340 M1350,790 H1425"/>
</g>
<g transform="translate(1110,1055) scale(0.18947)" fill="#3a3a3a" font-size="66" font-style="italic">
<text x="290" y="85" textLength="310" lengthAdjust="spacingAndGlyphs">7.62xP+15.24</text>
<text x="55" y="160" textLength="90" lengthAdjust="spacingAndGlyphs">3.81</text>
<text x="90" y="860" textLength="120" lengthAdjust="spacingAndGlyphs">11.43</text>
<text x="400" y="860" textLength="105" lengthAdjust="spacingAndGlyphs">7.62</text>
<text x="1205" y="140" textLength="120" lengthAdjust="spacingAndGlyphs">14.30</text>
<text x="1040" y="855" textLength="100" lengthAdjust="spacingAndGlyphs">2.60</text>
<text x="1195" y="855" textLength="110" lengthAdjust="spacingAndGlyphs">7.62</text>
<text transform="translate(930,327) rotate(-90)" textLength="100" lengthAdjust="spacingAndGlyphs">7.00</text>
<text transform="translate(980,537) rotate(-90)" textLength="130" lengthAdjust="spacingAndGlyphs">29.00</text>
<text transform="translate(1422,815) rotate(-90)" textLength="100" lengthAdjust="spacingAndGlyphs">5.00</text>
</g>
<g transform="translate(1100,1230) scale(0.14737)" fill="none" stroke="#3a3a3a" stroke-width="8">
<rect x="130" y="75" width="1055" height="330"/>
<circle cx="395" cy="170" r="20"/><circle cx="570" cy="170" r="20"/><circle cx="745" cy="170" r="20"/><circle cx="920" cy="170" r="20"/>
<circle cx="395" cy="345" r="20"/><circle cx="570" cy="345" r="20"/><circle cx="745" cy="345" r="20"/><circle cx="920" cy="345" r="20"/>
<path d="M70,170 H375 M70,345 H375 M75,165 V480 M70,405 H130 M745,365 V495 M920,365 V495 M1185,405 V495 M745,490 H1185 M1285,75 V405 M1185,75 H1295 M1185,405 H1295"/>
</g>
<g transform="translate(1100,1230) scale(0.14737)" fill="#3a3a3a" font-size="92" font-style="italic">
<text transform="translate(68,472) rotate(-90)" textLength="275" lengthAdjust="spacingAndGlyphs">2.60 7.62</text>
<text transform="translate(1272,322) rotate(-90)" textLength="150" lengthAdjust="spacingAndGlyphs">14.30</text>
<text x="760" y="475" textLength="130" lengthAdjust="spacingAndGlyphs">7.62</text>
<text x="975" y="475" textLength="160" lengthAdjust="spacingAndGlyphs">11.43</text>
</g>

<rect x="360.50" y="0.50" width="1062.50" height="33.50" fill="#0a3170"/><rect x="714.70" y="2.00" width="1.60" height="30.50" fill="#ffffff"/><rect x="1069.20" y="2.00" width="1.60" height="30.50" fill="#ffffff"/><rect x="0.00" y="568.70" width="1423.00" height="25.10" fill="#0a3170"/><rect x="0.00" y="718.00" width="1423.00" height="24.90" fill="#0a3170"/><rect x="360.30" y="34.00" width="1.4" height="534.70" fill="#2a2626"/><rect x="360.30" y="593.80" width="1.4" height="174.20" fill="#2a2626"/><rect x="714.80" y="34.00" width="1.4" height="534.70" fill="#2a2626"/><rect x="714.80" y="593.80" width="1.4" height="174.20" fill="#2a2626"/><rect x="1069.30" y="34.00" width="1.4" height="534.70" fill="#2a2626"/><rect x="1069.30" y="593.80" width="1.4" height="174.20" fill="#2a2626"/><rect x="5.40" y="544.00" width="1.4" height="24.70" fill="#2a2626"/><rect x="5.40" y="593.80" width="1.4" height="174.20" fill="#2a2626"/><rect x="0.00" y="543.30" width="1423.00" height="1.4" fill="#2a2626"/><rect x="0.00" y="617.80" width="1423.00" height="1.4" fill="#2a2626"/><rect x="0.00" y="642.70" width="1423.00" height="1.4" fill="#2a2626"/><rect x="0.00" y="667.60" width="1423.00" height="1.4" fill="#2a2626"/><rect x="0.00" y="692.60" width="1423.00" height="1.4" fill="#2a2626"/><rect x="0.00" y="717.30" width="1423.00" height="1.4" fill="#2a2626"/><rect x="0.00" y="742.20" width="1423.00" height="1.4" fill="#2a2626"/><rect x="0.00" y="767.30" width="1423.00" height="1.4" fill="#2a2626"/><text x="10.3" y="563.6" font-size="18" text-anchor="start" font-weight="normal" fill="#231f20" textLength="33.8" lengthAdjust="spacingAndGlyphs">Pitch</text><text x="10.3" y="588.3" font-size="18" text-anchor="start" font-weight="normal" fill="#ffffff" textLength="98.5" lengthAdjust="spacingAndGlyphs">Technical Data</text><text x="10.3" y="613.4" font-size="18" text-anchor="start" font-weight="normal" fill="#231f20" textLength="91.8" lengthAdjust="spacingAndGlyphs">Rated voltage</text><text x="10.3" y="638.1" font-size="18" text-anchor="start" font-weight="normal" fill="#231f20" textLength="91.8" lengthAdjust="spacingAndGlyphs">Rated current</text><text x="10.3" y="663.0" font-size="18" text-anchor="start" font-weight="normal" fill="#231f20" textLength="72.5" lengthAdjust="spacingAndGlyphs">Wire range</text><text x="10.3" y="687.9" font-size="18" text-anchor="start" font-weight="normal" fill="#231f20" textLength="114.1" lengthAdjust="spacingAndGlyphs">Available options</text><text x="10.3" y="712.9" font-size="18" text-anchor="start" font-weight="normal" fill="#231f20" textLength="42.0" lengthAdjust="spacingAndGlyphs">Screw</text><text x="10.3" y="762.5" font-size="18" text-anchor="start" font-weight="normal" fill="#231f20" textLength="100.0" lengthAdjust="spacingAndGlyphs">Available poles</text><text x="541.5" y="26.7" font-size="25" text-anchor="middle" font-weight="bold" fill="#ffffff" textLength="78.0" lengthAdjust="spacingAndGlyphs">21.97MV</text><text x="816.0" y="26.7" font-size="25" text-anchor="middle" font-weight="bold" fill="#ffffff" textLength="77.7" lengthAdjust="spacingAndGlyphs">20.92MP</text><text x="975.7" y="26.7" font-size="25" text-anchor="middle" font-weight="bold" fill="#ffffff" textLength="78.0" lengthAdjust="spacingAndGlyphs">21.92MP</text><text x="1162.0" y="26.7" font-size="25" text-anchor="middle" font-weight="bold" fill="#ffffff" textLength="77.2" lengthAdjust="spacingAndGlyphs">20.96MV</text><text x="1339.0" y="26.7" font-size="25" text-anchor="middle" font-weight="bold" fill="#ffffff" textLength="77.8" lengthAdjust="spacingAndGlyphs">21.96MV</text><text x="539.5" y="563.6" font-size="18" text-anchor="middle" font-weight="normal" fill="#231f20" textLength="56.4" lengthAdjust="spacingAndGlyphs">5.08mm</text><text x="451.0" y="588.3" font-size="18" text-anchor="middle" font-weight="normal" fill="#ffffff" textLength="18.2" lengthAdjust="spacingAndGlyphs">UL</text><text x="628.0" y="588.3" font-size="18" text-anchor="middle" font-weight="normal" fill="#ffffff" textLength="21.9" lengthAdjust="spacingAndGlyphs">IEC</text><text x="451.0" y="613.4" font-size="18" text-anchor="middle" font-weight="normal" fill="#231f20" textLength="36.0" lengthAdjust="spacingAndGlyphs">300V</text><text x="628.0" y="613.4" font-size="18" text-anchor="middle" font-weight="normal" fill="#231f20" textLength="36.0" lengthAdjust="spacingAndGlyphs">600V</text><text x="451.0" y="638.1" font-size="18" text-anchor="middle" font-weight="normal" fill="#231f20" textLength="25.0" lengthAdjust="spacingAndGlyphs">15A</text><text x="628.0" y="638.1" font-size="18" text-anchor="middle" font-weight="normal" fill="#231f20" textLength="25.0" lengthAdjust="spacingAndGlyphs">18A</text><text x="539.5" y="762.5" font-size="18" text-anchor="middle" font-weight="normal" fill="#231f20" textLength="44.0" lengthAdjust="spacingAndGlyphs">2 - 22</text><text x="893.7" y="563.6" font-size="18" text-anchor="middle" font-weight="normal" fill="#231f20" textLength="128.3" lengthAdjust="spacingAndGlyphs">5.00mm (5.08mm)</text><text x="806.0" y="588.3" font-size="18" text-anchor="middle" font-weight="normal" fill="#ffffff" textLength="18.2" lengthAdjust="spacingAndGlyphs">UL</text><text x="982.8" y="588.3" font-size="18" text-anchor="middle" font-weight="normal" fill="#ffffff" textLength="21.9" lengthAdjust="spacingAndGlyphs">IEC</text><text x="806.0" y="613.4" font-size="18" text-anchor="middle" font-weight="normal" fill="#231f20" textLength="36.0" lengthAdjust="spacingAndGlyphs">300V</text><text x="982.8" y="613.4" font-size="18" text-anchor="middle" font-weight="normal" fill="#231f20" textLength="36.0" lengthAdjust="spacingAndGlyphs">600V</text><text x="806.0" y="638.1" font-size="18" text-anchor="middle" font-weight="normal" fill="#231f20" textLength="25.0" lengthAdjust="spacingAndGlyphs">15A</text><text x="982.8" y="638.1" font-size="18" text-anchor="middle" font-weight="normal" fill="#231f20" textLength="25.0" lengthAdjust="spacingAndGlyphs">18A</text><text x="806.0" y="687.9" font-size="18" text-anchor="middle" font-weight="normal" fill="#231f20" textLength="66.0" lengthAdjust="spacingAndGlyphs">300V/10A</text><text x="982.8" y="687.9" font-size="18" text-anchor="middle" font-weight="normal" fill="#231f20" textLength="66.0" lengthAdjust="spacingAndGlyphs">320V/15A</text><text x="893.7" y="762.5" font-size="18" text-anchor="middle" font-weight="normal" fill="#231f20" textLength="44.0" lengthAdjust="spacingAndGlyphs">2 - 24</text><text x="1248.5" y="563.6" font-size="18" text-anchor="middle" font-weight="normal" fill="#231f20" textLength="125.4" lengthAdjust="spacingAndGlyphs">7.50mm (7.62mm)</text><text x="1160.7" y="588.3" font-size="18" text-anchor="middle" font-weight="normal" fill="#ffffff" textLength="18.2" lengthAdjust="spacingAndGlyphs">UL</text><text x="1337.6" y="588.3" font-size="18" text-anchor="middle" font-weight="normal" fill="#ffffff" textLength="21.9" lengthAdjust="spacingAndGlyphs">IEC</text><text x="1160.7" y="613.4" font-size="18" text-anchor="middle" font-weight="normal" fill="#231f20" textLength="36.0" lengthAdjust="spacingAndGlyphs">300V</text><text x="1337.6" y="613.4" font-size="18" text-anchor="middle" font-weight="normal" fill="#231f20" textLength="34.0" lengthAdjust="spacingAndGlyphs">750V</text><text x="1160.7" y="638.1" font-size="18" text-anchor="middle" font-weight="normal" fill="#231f20" textLength="25.0" lengthAdjust="spacingAndGlyphs">15A</text><text x="1337.6" y="638.1" font-size="18" text-anchor="middle" font-weight="normal" fill="#231f20" textLength="36.0" lengthAdjust="spacingAndGlyphs">17.5A</text><text x="1160.7" y="687.9" font-size="18" text-anchor="middle" font-weight="normal" fill="#231f20" textLength="66.0" lengthAdjust="spacingAndGlyphs">300V/15A</text><text x="1337.6" y="687.9" font-size="18" text-anchor="middle" font-weight="normal" fill="#231f20" textLength="67.0" lengthAdjust="spacingAndGlyphs">320V/20A</text><text x="1248.5" y="762.5" font-size="18" text-anchor="middle" font-weight="normal" fill="#231f20" textLength="43.0" lengthAdjust="spacingAndGlyphs">2 - 14</text><rect x="358.20" y="769.00" width="1062.80" height="33.00" fill="#0a3170"/><rect x="712.80" y="770.50" width="1.60" height="30.00" fill="#ffffff"/><rect x="1067.80" y="770.50" width="1.60" height="30.00" fill="#ffffff"/><rect x="0.00" y="1338.00" width="1421.00" height="25.30" fill="#0a3170"/><rect x="0.00" y="1487.60" width="1421.00" height="24.90" fill="#0a3170"/><rect x="358.00" y="802.00" width="1.4" height="536.00" fill="#2a2626"/><rect x="358.00" y="1363.30" width="1.4" height="173.70" fill="#2a2626"/><rect x="712.90" y="802.00" width="1.4" height="536.00" fill="#2a2626"/><rect x="712.90" y="1363.30" width="1.4" height="173.70" fill="#2a2626"/><rect x="1067.90" y="802.00" width="1.4" height="536.00" fill="#2a2626"/><rect x="1067.90" y="1363.30" width="1.4" height="173.70" fill="#2a2626"/><rect x="2.90" y="1313.00" width="1.4" height="25.00" fill="#2a2626"/><rect x="2.90" y="1363.30" width="1.4" height="173.70" fill="#2a2626"/><rect x="0.00" y="1312.30" width="1421.00" height="1.4" fill="#2a2626"/><rect x="0.00" y="1387.00" width="1421.00" height="1.4" fill="#2a2626"/><rect x="0.00" y="1411.90" width="1421.00" height="1.4" fill="#2a2626"/><rect x="0.00" y="1436.80" width="1421.00" height="1.4" fill="#2a2626"/><rect x="0.00" y="1461.70" width="1421.00" height="1.4" fill="#2a2626"/><rect x="0.00" y="1486.90" width="1421.00" height="1.4" fill="#2a2626"/><rect x="0.00" y="1511.80" width="1421.00" height="1.4" fill="#2a2626"/><rect x="0.00" y="1536.30" width="1421.00" height="1.4" fill="#2a2626"/><text x="7.6" y="1332.0" font-size="18" text-anchor="start" font-weight="normal" fill="#231f20" textLength="33.8" lengthAdjust="spacingAndGlyphs">Pitch</text><text x="7.6" y="1357.0" font-size="18" text-anchor="start" font-weight="normal" fill="#ffffff" textLength="98.5" lengthAdjust="spacingAndGlyphs">Technical Data</text><text x="7.6" y="1382.3" font-size="18" text-anchor="start" font-weight="normal" fill="#231f20" textLength="91.8" lengthAdjust="spacingAndGlyphs">Rated voltage</text><text x="7.6" y="1406.7" font-size="18" text-anchor="start" font-weight="normal" fill="#231f20" textLength="91.8" lengthAdjust="spacingAndGlyphs">Rated current</text><text x="7.6" y="1431.6" font-size="18" text-anchor="start" font-weight="normal" fill="#231f20" textLength="72.5" lengthAdjust="spacingAndGlyphs">Wire range</text><text x="7.6" y="1456.5" font-size="18" text-anchor="start" font-weight="normal" fill="#231f20" textLength="114.1" lengthAdjust="spacingAndGlyphs">Available options</text><text x="7.6" y="1481.4" font-size="18" text-anchor="start" font-weight="normal" fill="#231f20" textLength="42.0" lengthAdjust="spacingAndGlyphs">Screw</text><text x="7.6" y="1531.5" font-size="18" text-anchor="start" font-weight="normal" fill="#231f20" textLength="100.0" lengthAdjust="spacingAndGlyphs">Available poles</text><text x="451.0" y="795.2" font-size="25" text-anchor="middle" font-weight="bold" fill="#ffffff" textLength="90.0" lengthAdjust="spacingAndGlyphs">20.96MHF</text><text x="628.3" y="795.2" font-size="25" text-anchor="middle" font-weight="bold" fill="#ffffff" textLength="90.0" lengthAdjust="spacingAndGlyphs">21.96MHF</text><text x="894.2" y="795.2" font-size="25" text-anchor="middle" font-weight="bold" fill="#ffffff" textLength="88.7" lengthAdjust="spacingAndGlyphs">21.96MVL</text><text x="1249.3" y="795.2" font-size="25" text-anchor="middle" font-weight="bold" fill="#ffffff" textLength="99.4" lengthAdjust="spacingAndGlyphs">21.96MVLF</text><text x="537.6" y="1332.0" font-size="18" text-anchor="middle" font-weight="normal" fill="#231f20" textLength="125.4" lengthAdjust="spacingAndGlyphs">7.50mm (7.62mm)</text><text x="449.2" y="1357.0" font-size="18" text-anchor="middle" font-weight="normal" fill="#ffffff" textLength="18.2" lengthAdjust="spacingAndGlyphs">UL</text><text x="626.3" y="1357.0" font-size="18" text-anchor="middle" font-weight="normal" fill="#ffffff" textLength="21.9" lengthAdjust="spacingAndGlyphs">IEC</text><text x="449.2" y="1382.3" font-size="18" text-anchor="middle" font-weight="normal" fill="#231f20" textLength="36.0" lengthAdjust="spacingAndGlyphs">300V</text><text x="626.3" y="1382.3" font-size="18" text-anchor="middle" font-weight="normal" fill="#231f20" textLength="34.0" lengthAdjust="spacingAndGlyphs">750V</text><text x="449.2" y="1406.7" font-size="18" text-anchor="middle" font-weight="normal" fill="#231f20" textLength="25.0" lengthAdjust="spacingAndGlyphs">15A</text><text x="626.3" y="1406.7" font-size="18" text-anchor="middle" font-weight="normal" fill="#231f20" textLength="36.0" lengthAdjust="spacingAndGlyphs">17.5A</text><text x="449.2" y="1456.5" font-size="18" text-anchor="middle" font-weight="normal" fill="#231f20" textLength="66.0" lengthAdjust="spacingAndGlyphs">300V/15A</text><text x="626.3" y="1456.5" font-size="18" text-anchor="middle" font-weight="normal" fill="#231f20" textLength="67.0" lengthAdjust="spacingAndGlyphs">320V/20A</text><text x="537.6" y="1531.5" font-size="18" text-anchor="middle" font-weight="normal" fill="#231f20" textLength="43.0" lengthAdjust="spacingAndGlyphs">2 - 12</text><text x="892.6" y="1332.0" font-size="18" text-anchor="middle" font-weight="normal" fill="#231f20" textLength="54.5" lengthAdjust="spacingAndGlyphs">7.62mm</text><text x="804.2" y="1357.0" font-size="18" text-anchor="middle" font-weight="normal" fill="#ffffff" textLength="18.2" lengthAdjust="spacingAndGlyphs">UL</text><text x="981.3" y="1357.0" font-size="18" text-anchor="middle" font-weight="normal" fill="#ffffff" textLength="21.9" lengthAdjust="spacingAndGlyphs">IEC</text><text x="804.2" y="1382.3" font-size="18" text-anchor="middle" font-weight="normal" fill="#231f20" textLength="36.0" lengthAdjust="spacingAndGlyphs">300V</text><text x="981.3" y="1382.3" font-size="18" text-anchor="middle" font-weight="normal" fill="#231f20" textLength="36.0" lengthAdjust="spacingAndGlyphs">450V</text><text x="804.2" y="1406.7" font-size="18" text-anchor="middle" font-weight="normal" fill="#231f20" textLength="27.0" lengthAdjust="spacingAndGlyphs">30A</text><text x="981.3" y="1406.7" font-size="18" text-anchor="middle" font-weight="normal" fill="#231f20" textLength="27.0" lengthAdjust="spacingAndGlyphs">20A</text><text x="892.6" y="1531.5" font-size="18" text-anchor="middle" font-weight="normal" fill="#231f20" textLength="43.0" lengthAdjust="spacingAndGlyphs">2 - 12</text><text x="1247.6" y="1332.0" font-size="18" text-anchor="middle" font-weight="normal" fill="#231f20" textLength="54.5" lengthAdjust="spacingAndGlyphs">7.62mm</text><text x="1159.2" y="1357.0" font-size="18" text-anchor="middle" font-weight="normal" fill="#ffffff" textLength="18.2" lengthAdjust="spacingAndGlyphs">UL</text><text x="1336.3" y="1357.0" font-size="18" text-anchor="middle" font-weight="normal" fill="#ffffff" textLength="21.9" lengthAdjust="spacingAndGlyphs">IEC</text><text x="1159.2" y="1382.3" font-size="18" text-anchor="middle" font-weight="normal" fill="#231f20" textLength="36.0" lengthAdjust="spacingAndGlyphs">300V</text><text x="1336.3" y="1382.3" font-size="18" text-anchor="middle" font-weight="normal" fill="#231f20" textLength="36.0" lengthAdjust="spacingAndGlyphs">450V</text><text x="1159.2" y="1406.7" font-size="18" text-anchor="middle" font-weight="normal" fill="#231f20" textLength="27.0" lengthAdjust="spacingAndGlyphs">30A</text><text x="1336.3" y="1406.7" font-size="18" text-anchor="middle" font-weight="normal" fill="#231f20" textLength="27.0" lengthAdjust="spacingAndGlyphs">20A</text><text x="1247.6" y="1531.5" font-size="18" text-anchor="middle" font-weight="normal" fill="#231f20" textLength="43.0" lengthAdjust="spacingAndGlyphs">2 - 12</text><g transform="translate(6,463)"><rect x="0" y="0" width="76" height="55" fill="#ffffff"/><polygon points="1,0 29.1,0 29.1,17" fill="#1b3362"/><polygon points="0,12.8 0,19.4 10.4,19.4" fill="#1b3362"/><polygon points="47.4,0 75.5,0 47.4,17" fill="#1b3362"/><polygon points="76,12.8 76,19.4 66,19.4" fill="#1b3362"/><polygon points="0,37.1 10.4,37.1 0,44" fill="#1b3362"/><polygon points="29.1,39 29.1,55 2.2,55" fill="#1b3362"/><polygon points="66,37.1 76,37.1 76,43.7" fill="#1b3362"/><polygon points="47.4,39 47.4,55 74.9,55" fill="#1b3362"/><polygon points="0,5.5 0,9.9 15.8,19.4 22.1,19.4" fill="#e31b37"/><polygon points="76,3.6 76,7.4 55.9,19.4 49.9,19.4" fill="#e31b37"/><polygon points="0,49.1 0,52.6 25.6,37.4 20.5,37.4" fill="#e31b37"/><polygon points="54.6,37.4 60.3,37.4 76,46.9 76,51" fill="#e31b37"/><rect x="32.8" y="0" width="11.4" height="55" fill="#e31b37"/><rect x="0" y="23" width="76" height="10.7" fill="#e31b37"/></g><g transform="translate(3.5,1232.2)"><rect x="0" y="0" width="76" height="55" fill="#ffffff"/><polygon points="1,0 29.1,0 29.1,17" fill="#1b3362"/><polygon points="0,12.8 0,19.4 10.4,19.4" fill="#1b3362"/><polygon points="47.4,0 75.5,0 47.4,17" fill="#1b3362"/><polygon points="76,12.8 76,19.4 66,19.4" fill="#1b3362"/><polygon points="0,37.1 10.4,37.1 0,44" fill="#1b3362"/><polygon points="29.1,39 29.1,55 2.2,55" fill="#1b3362"/><polygon points="66,37.1 76,37.1 76,43.7" fill="#1b3362"/><polygon points="47.4,39 47.4,55 74.9,55" fill="#1b3362"/><polygon points="0,5.5 0,9.9 15.8,19.4 22.1,19.4" fill="#e31b37"/><polygon points="76,3.6 76,7.4 55.9,19.4 49.9,19.4" fill="#e31b37"/><polygon points="0,49.1 0,52.6 25.6,37.4 20.5,37.4" fill="#e31b37"/><polygon points="54.6,37.4 60.3,37.4 76,46.9 76,51" fill="#e31b37"/><rect x="32.8" y="0" width="11.4" height="55" fill="#e31b37"/><rect x="0" y="23" width="76" height="10.7" fill="#e31b37"/></g>
</svg>
</body></html>
